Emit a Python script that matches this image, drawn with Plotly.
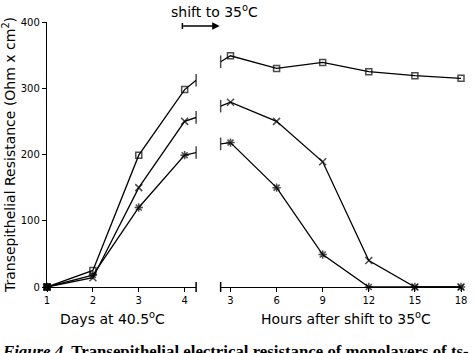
import plotly.graph_objects as go

# ---- data ----
days = [1, 2, 3, 4]
days_sq = [0, 25, 199, 298]
days_x = [0, 14, 150, 250]
days_st = [0, 18, 120, 199]
# continuation of lines to the axis break (x = 4.25 day)
left_break_x = 4.25
left_break_sq = 312
left_break_x_ser = 256
left_break_st = 203

hours = [3, 6, 9, 12, 15, 18]
hours_sq = [349, 330, 339, 325, 319, 315]
hours_x = [279, 250, 189, 40, 0, 0]
hours_st = [218, 150, 49, 0, 0, 0]
# start of lines after the axis break
right_break_x = 2.36
right_break_sq = 340
right_break_x_ser = 273
right_break_st = 216

day_ticks = [1, 2, 3, 4]
hour_ticks = [3, 6, 9, 12, 15, 18]
y_ticks = [0, 100, 200, 300, 400]

W, H = 474, 353
L, R, T, B = 45, 7, 22, 66
pw = W - L - R
left_end_px = 197
right_start_px = 222
dom_left = [0, (left_end_px - L) / pw]
dom_right = [(right_start_px - L) / pw, 1]

FONT = "DejaVu Sans"
fig = go.Figure()

series = [
    (days_sq, left_break_sq, hours_sq, right_break_sq, "square-open", 6),
    (days_x, left_break_x_ser, hours_x, right_break_x_ser, "x-thin-open", 7),
    (days_st, left_break_st, hours_st, right_break_st, "asterisk-open", 7),
]
for dv, lb, hv, rb, sym, sz in series:
    # left panel
    fig.add_trace(go.Scatter(
        x=days + [left_break_x], y=dv + [lb], xaxis="x", yaxis="y",
        mode="lines+markers", line=dict(color="black", width=1.3),
        marker=dict(symbol=[sym] * len(days) + ["line-ns-open"],
                    size=[sz] * len(days) + [9], color="black",
                    line=dict(color="black", width=1.5)),
        cliponaxis=False, showlegend=False))
    # right panel
    fig.add_trace(go.Scatter(
        x=[right_break_x] + hours, y=[rb] + hv, xaxis="x2", yaxis="y",
        mode="lines+markers", line=dict(color="black", width=1.3),
        marker=dict(symbol=["line-ns-open"] + [sym] * len(hours),
                    size=[9] + [sz] * len(hours), color="black",
                    line=dict(color="black", width=1.5)),
        cliponaxis=False, showlegend=False))

# filled blob at origin
fig.add_trace(go.Scatter(x=[1], y=[0], xaxis="x", yaxis="y", mode="markers",
                         marker=dict(symbol="square", size=7, color="black"),
                         cliponaxis=False, showlegend=False))

axis_common = dict(showgrid=False, zeroline=False, showline=True,
                   linecolor="black", linewidth=1.3, ticks="outside",
                   ticklen=4, tickwidth=1.3, tickcolor="black",
                   tickfont=dict(family=FONT, size=10, color="black"))

fig.update_layout(
    width=W, height=H,
    margin=dict(l=L, r=R, t=T, b=B),
    paper_bgcolor="white", plot_bgcolor="white",
    xaxis=dict(domain=dom_left, range=[1, 4.25], tickvals=day_ticks,
               anchor="y", **axis_common),
    xaxis2=dict(domain=dom_right, range=[2.36, 18], tickvals=hour_ticks,
                anchor="y", **axis_common),
    yaxis=dict(range=[0, 400], tickvals=y_ticks, anchor="x", **axis_common,
               title=dict(text="Transepithelial Resistance (Ohm x cm<sup>2</sup>)",
                          standoff=4,
                          font=dict(family=FONT, size=14, color="black"))),
)

def py(px):
    return (H - B - px) / (H - T - B)

def pxx(px):
    return (px - L) / pw

shapes = []
# axis break bars
for xp in [left_end_px, right_start_px]:
    shapes.append(dict(type="line", xref="paper", yref="paper",
                       x0=pxx(xp), x1=pxx(xp), y0=py(H - B - 5), y1=py(H - B + 5),
                       line=dict(color="black", width=1.5)))
# arrow for the shift
shapes.append(dict(type="line", xref="paper", yref="paper",
                   x0=pxx(183), x1=pxx(183), y0=py(23), y1=py(29),
                   line=dict(color="black", width=1.5)))
fig.update_layout(shapes=shapes)

fig.add_annotation(xref="paper", yref="paper", x=pxx(221), y=py(26),
                   ax=-38, ay=0, axref="pixel", ayref="pixel",
                   text="", showarrow=True, arrowhead=2, arrowsize=1,
                   arrowwidth=1.5, arrowcolor="black")
fig.add_annotation(xref="paper", yref="paper", x=pxx(216), y=py(0),
                   xanchor="center", yanchor="top",
                   text="shift to 35<sup>o</sup>C", showarrow=False,
                   font=dict(family=FONT, size=14, color="black"))
fig.add_annotation(xref="paper", yref="paper", x=pxx(112), y=py(318),
                   xanchor="center", yanchor="middle",
                   text="Days at 40.5<sup>o</sup>C", showarrow=False,
                   font=dict(family=FONT, size=14, color="black"))
fig.add_annotation(xref="paper", yref="paper", x=pxx(350), y=py(318),
                   xanchor="center", yanchor="middle",
                   text="Hours after shift to 35<sup>o</sup>C", showarrow=False,
                   font=dict(family=FONT, size=14, color="black"))
fig.add_annotation(xref="paper", yref="paper", x=pxx(-3), y=py(351),
                   xanchor="left", yanchor="middle",
                   text="<b><i>Figure 4.</i> Transepithelial electrical resistance of monolayers of ts-</b>",
                   showarrow=False,
                   font=dict(family="Liberation Serif", size=16.8, color="black"))

fig.write_html("out.html")
